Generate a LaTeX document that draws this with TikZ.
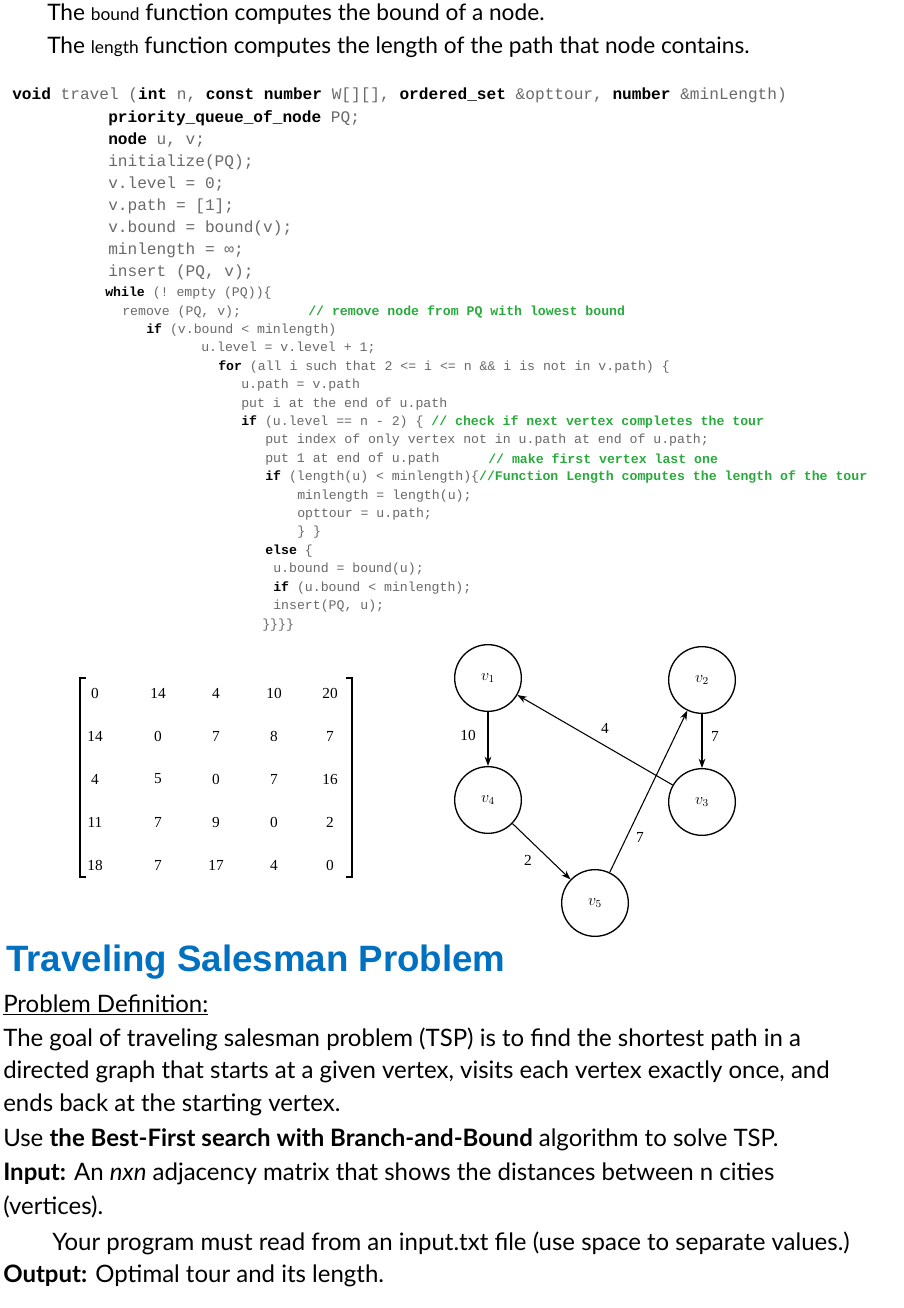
\documentclass[tikz,border=0pt]{standalone}
\usepackage{fontspec}
\setmainfont{Lato}
\setmonofont{Liberation Mono}
\newfontfamily\headfont{Liberation Sans}
\newfontfamily\mathserif{Liberation Serif}
\usetikzlibrary{arrows.meta}
\definecolor{codegray}{RGB}{105,105,105}
\definecolor{cmtgreen}{RGB}{40,170,60}
\definecolor{headblue}{RGB}{0,112,192}
\newcommand{\kw}[1]{{\color{black}\bfseries #1}}
\newcommand{\cm}[1]{{\color{cmtgreen}\bfseries #1}}
\tikzset{
  codebig/.style={anchor=west,inner sep=0pt,font=\ttfamily\fontsize{12.1}{12}\selectfont,text=codegray},
  codesmall/.style={anchor=west,inner sep=0pt,font=\ttfamily\fontsize{9.9}{10}\selectfont,text=codegray},
  body/.style={anchor=west,inner sep=0pt,font=\fontsize{18}{18}\selectfont},
  toptext/.style={anchor=west,inner sep=0pt,font=\fontsize{17}{17}\selectfont},
  mval/.style={inner sep=0pt,font=\mathserif\fontsize{11.5}{12}\selectfont},
  vertex/.style={circle,draw,line width=1pt,minimum size=50pt,inner sep=0pt,font=\large},
  elabel/.style={inner sep=0pt,font=\mathserif\fontsize{11.5}{12}\selectfont},
  edge/.style={-{Stealth[length=7pt,width=5pt]},line width=0.8pt}
}
\begin{document}
\begin{tikzpicture}[x=0.75pt,y=0.75pt,yscale=-1]
\useasboundingbox (0,0) rectangle (903,1308);

% top text
\node[toptext] (t1) at (47,14) {The {\fontsize{13}{13}\selectfont bound} function computes the bound of a node.};
\node[toptext] (t2) at (47,47) {The {\fontsize{13}{13}\selectfont length} function computes the length of the path that node contains.};

% code
\node[codebig] (c1) at (12,95) {\kw{void} travel (\kw{int} n, \kw{const number} W[][], \kw{ordered\_set} \&opttour, \kw{number} \&minLength)};
\node[codebig] (c2) at (108,118) {\kw{priority\_queue\_of\_node} PQ;};
\node[codebig] (c3) at (108,140) {\kw{node} u, v;};
\node[codebig] (c4) at (108,162) {initialize(PQ);};
\node[codebig] (c5) at (108,184) {v.level = 0;};
\node[codebig] (c6) at (108,206) {v.path = [1];};
\node[codebig] (c7) at (108,228) {v.bound = bound(v);};
\node[codebig] (c8) at (108,250) {minlength = ∞;};
\node[codebig] (c9) at (108,272) {insert (PQ, v);};
\node[codesmall] (c10) at (105,293) {\kw{while} (! empty (PQ))\{};
\node[codesmall] (c11) at (122,312) {remove (PQ, v);};
\node[codesmall] (c11c) at (308,312) {\cm{// remove node from PQ with lowest bound}};
\node[codesmall] (c12) at (146,330) {\kw{if} (v.bound < minlength)};
\node[codesmall] (c13) at (201,348) {u.level = v.level + 1;};
\node[codesmall] (c14) at (218,367) {\kw{for} (all i such that 2 <= i <= n \&\& i is not in v.path) \{};
\node[codesmall] (c15) at (241,385) {u.path = v.path};
\node[codesmall] (c16) at (241,404) {put i at the end of u.path};
\node[codesmall] (c17) at (241,422) {\kw{if} (u.level == n - 2) \{ \cm{// check if next vertex completes the tour}};
\node[codesmall] (c18) at (265,440) {put index of only vertex not in u.path at end of u.path;};
\node[codesmall] (c19) at (265,459) {put 1 at end of u.path};
\node[codesmall] (c19c) at (488,459) {\cm{// make first vertex last one}};
\node[codesmall] (c20) at (265,477) {\kw{if} (length(u) < minlength)\{\cm{//Function Length computes the length of the tour}};
\node[codesmall] (c21) at (297,496) {minlength = length(u);};
\node[codesmall] (c22) at (297,514) {opttour = u.path;};
\node[codesmall] (c23) at (297,532) {\} \}};
\node[codesmall] (c24) at (265,551) {\kw{else} \{};
\node[codesmall] (c25) at (273,569) {u.bound = bound(u);};
\node[codesmall] (c26) at (273,588) {\kw{if} (u.bound < minlength);};
\node[codesmall] (c27) at (273,606) {insert(PQ, u);};
\node[codesmall] (c28) at (262,625) {\}\}\}\}};

% matrix
\draw[line width=0.9pt] (86,678) -- (80,678) -- (80,877) -- (86,877);
\draw[line width=0.9pt] (346,678) -- (352,678) -- (352,877) -- (346,877);
\node[mval] (m11) at (95,693) {0};   \node[mval] (m12) at (158,693) {14}; \node[mval] (m13) at (216,693) {4};  \node[mval] (m14) at (274,693) {10}; \node[mval] (m15) at (330,693) {20};
\node[mval] (m21) at (95,736) {14};  \node[mval] (m22) at (158,736) {0};  \node[mval] (m23) at (216,736) {7};  \node[mval] (m24) at (274,736) {8};  \node[mval] (m25) at (330,736) {7};
\node[mval] (m31) at (95,779) {4};   \node[mval] (m32) at (158,779) {5};  \node[mval] (m33) at (216,779) {0};  \node[mval] (m34) at (274,779) {7};  \node[mval] (m35) at (330,779) {16};
\node[mval] (m41) at (95,822) {11};  \node[mval] (m42) at (158,822) {7};  \node[mval] (m43) at (216,822) {9};  \node[mval] (m44) at (274,822) {0};  \node[mval] (m45) at (330,822) {2};
\node[mval] (m51) at (95,865) {18};  \node[mval] (m52) at (158,865) {7};  \node[mval] (m53) at (216,865) {17}; \node[mval] (m54) at (274,865) {4};  \node[mval] (m55) at (330,865) {0};

% graph
\node[vertex] (v1) at (488,678) {$v_1$};
\node[vertex] (v2) at (702,680) {$v_2$};
\node[vertex] (v4) at (488,800) {$v_4$};
\node[vertex] (v3) at (702,802) {$v_3$};
\node[vertex] (v5) at (595,903) {$v_5$};
\draw[edge] (v1) -- (v4);
\draw[edge] (v2) -- (v3);
\draw[edge] (v3) -- (v1);
\draw[edge] (v4) -- (v5);
\draw[edge] (v5) -- (v2);
\node[elabel] (l14) at (468,735) {10};
\node[elabel] (l31) at (605,728) {4};
\node[elabel] (l23) at (715,736) {7};
\node[elabel] (l45) at (528,860) {2};
\node[elabel] (l52) at (640,837) {7};

% bottom text
\node[anchor=west,inner sep=0pt,font=\headfont\bfseries\fontsize{27.5}{28}\selectfont,text=headblue] (title) at (6,962) {Traveling Salesman Problem};
\node[body] (b1) at (3,1005) {\underline{Problem Definition:}};
\node[body] (b2) at (3,1039) {The goal of traveling salesman problem (TSP) is to find the shortest path in a};
\node[body] (b3) at (3,1072) {directed graph that starts at a given vertex, visits each vertex exactly once, and};
\node[body] (b4) at (3,1105) {ends back at the starting vertex.};
\node[body] (b5) at (3,1140) {Use \textbf{the Best-First search with Branch-and-Bound} algorithm to solve TSP.};
\node[body] (b6) at (3,1174) {\textbf{Input:} An \textit{nxn} adjacency matrix that shows the distances between n cities};
\node[body] (b7) at (3,1207) {(vertices).};
\node[body] (b8) at (52,1243) {Your program must read from an input.txt file (use space to separate values.)};
\node[body] (b9) at (3,1276) {\textbf{Output:}  Optimal tour and its length.};
\end{tikzpicture}
\end{document}
